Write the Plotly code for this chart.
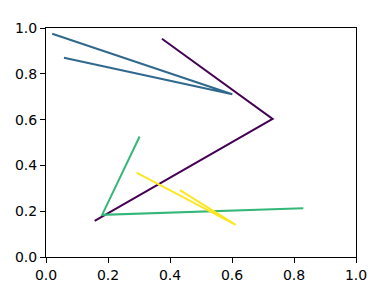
import plotly.graph_objects as go

series_names = ["s0", "s1", "s2", "s3"]
series_x = [
    [0.374, 0.731, 0.157],
    [0.020, 0.601, 0.058],
    [0.302, 0.181, 0.830],
    [0.292, 0.612, 0.432],
]
series_y = [
    [0.953, 0.603, 0.158],
    [0.975, 0.711, 0.870],
    [0.526, 0.184, 0.213],
    [0.368, 0.140, 0.292],
]
colors = ["#440154", "#31688e", "#35b779", "#fde725"]
tick_vals = [0.0, 0.2, 0.4, 0.6, 0.8, 1.0]
tick_text = ["0.0", "0.2", "0.4", "0.6", "0.8", "1.0"]

fig = go.Figure()
for name, xs, ys, c in zip(series_names, series_x, series_y, colors):
    fig.add_trace(go.Scatter(x=xs, y=ys, mode="lines", name=name,
                             line=dict(color=c, width=2), showlegend=False))

axis_common = dict(range=[0, 1], showgrid=False, zeroline=False, showline=True,
                   linecolor="black", linewidth=1, mirror=True, ticks="outside",
                   ticklen=5, tickwidth=1, tickcolor="black", automargin=False,
                   tickvals=tick_vals, ticktext=tick_text,
                   tickfont=dict(family="DejaVu Sans", size=14, color="black"))
fig.update_layout(
    width=386, height=285,
    margin=dict(l=46, r=30, t=28, b=28),
    paper_bgcolor="white", plot_bgcolor="white",
    xaxis=axis_common, yaxis=axis_common,
)
fig.write_html("out.html")
